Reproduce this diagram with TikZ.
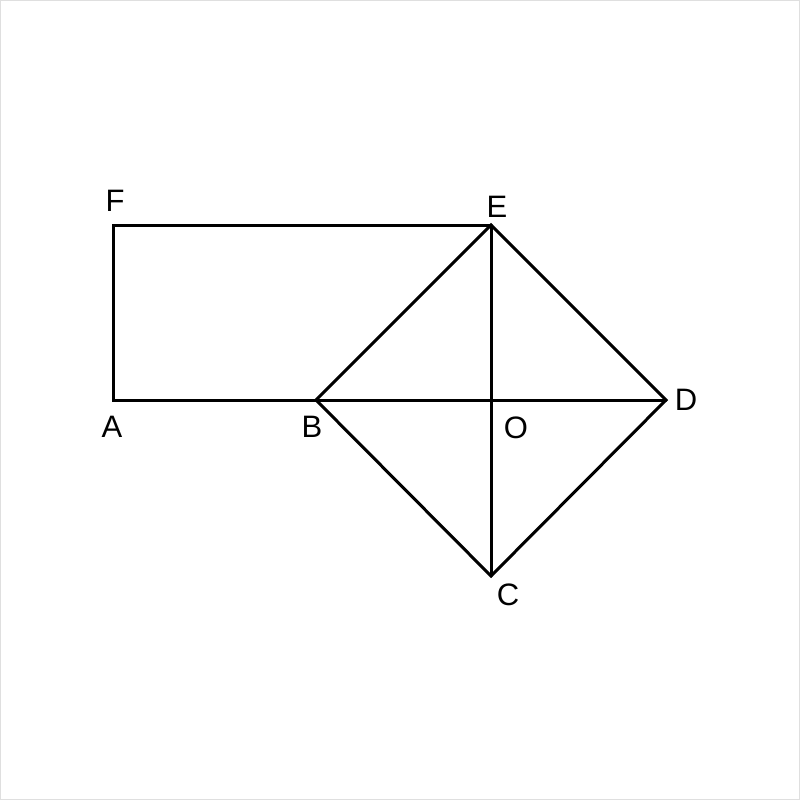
\documentclass[tikz,border=0pt]{standalone}
\usepackage{fontspec}
\setmainfont{Liberation Sans}
\begin{document}
\begin{tikzpicture}[x=1pt,y=-1pt,
  edge/.style={line width=3pt,line join=miter,line cap=round},
  lbl/.style={font=\fontsize{31}{31}\selectfont,inner sep=0pt,anchor=center}]
\useasboundingbox (0,0) rectangle (800,800);
\draw[gray!25,line width=1pt] (0.5,0.5) rectangle (799.5,799.5);
\coordinate (F) at (113,225);
\coordinate (E) at (491,225);
\coordinate (A) at (113,400);
\coordinate (B) at (316,400);
\coordinate (O) at (491,400);
\coordinate (D) at (666,400);
\coordinate (C) at (491,576);
\draw[edge] (B) -- (A) -- (F) -- (E);
\draw[edge] (E) -- (D) -- (C) -- (B) -- cycle;
\draw[edge] (B) -- (D);
\draw[edge] (E) -- (C);
\node[lbl] (lF) at (115,201) {F};
\node[lbl] (lE) at (497,207) {E};
\node[lbl] (lA) at (112,427) {A};
\node[lbl] (lB) at (312,427) {B};
\node[lbl] (lO) at (516,428) {O};
\node[lbl] (lD) at (686,400) {D};
\node[lbl] (lC) at (508,595) {C};
\end{tikzpicture}
\end{document}
